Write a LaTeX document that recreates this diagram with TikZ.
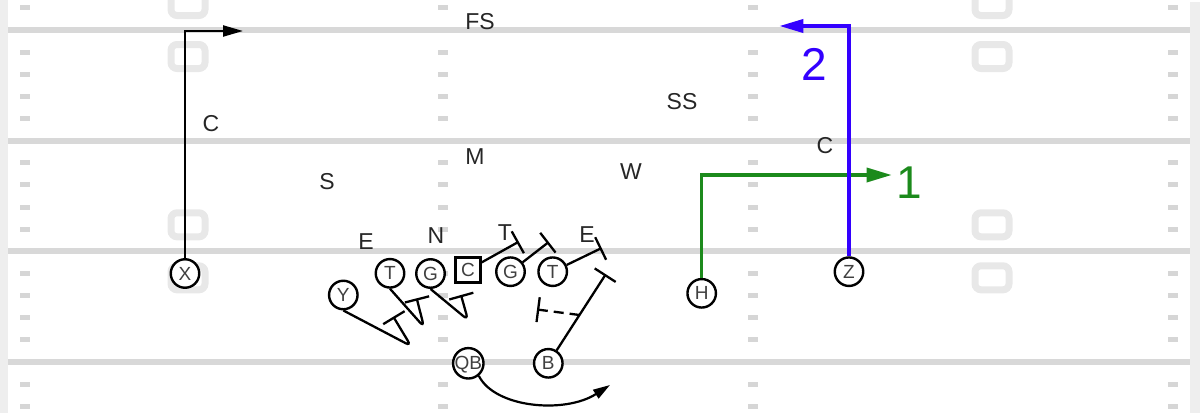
\documentclass[tikz,border=0pt]{standalone}
\usepackage{fontspec}
\setmainfont{Liberation Sans}
\usetikzlibrary{arrows.meta}

\definecolor{fieldline}{RGB}{216,216,216}
\definecolor{hashmark}{RGB}{214,214,214}
\definecolor{numbergray}{RGB}{232,232,232}
\definecolor{edgegray}{RGB}{238,238,238}
\definecolor{routeblue}{RGB}{51,0,255}
\definecolor{routegreen}{RGB}{28,138,28}
\definecolor{lettergray}{RGB}{64,64,64}

\begin{document}
\begin{tikzpicture}[x=1pt, y=-1pt]

\tikzset{
    player/.style={circle, draw, line width=2.4pt, fill=white, minimum size=28.5pt, inner sep=0pt, text depth=0pt, text=lettergray, font=\fontsize{19}{22}\selectfont},
    snapper/.style={rectangle, draw, line width=2.4pt, fill=white, minimum size=25pt, inner sep=0pt, text depth=0pt, text=lettergray, font=\fontsize{19}{22}\selectfont},
    defender/.style={inner sep=0pt, text=black!85, font=\fontsize{23}{26}\selectfont},
    blockline/.style={line width=2.3pt, -{Bar[width=25pt]}},
    routenum/.style={inner sep=0pt, font=\fontsize{46}{50}\selectfont}
}
\useasboundingbox (0,0) rectangle (1200,415);

% field
\fill[edgegray] (0,0) rectangle (8,413);
\fill[edgegray] (1190,2) rectangle (1200,413);
\foreach \nx in {188,992}
    \foreach \ny in {3.5,56.5,224.8,277.8}
        \draw[numbergray, line width=7pt, rounded corners=6pt] ({\nx-17},{\ny-12}) rectangle ({\nx+17},{\ny+12});
\foreach \ly in {30,140.7,251.3,362}
    \draw[fieldline, line width=6pt] (8,\ly) -- (1190,\ly);
\foreach \k in {-1,1,2,3,4,6,7,8,9,11,12,13,14,16,17}
    \foreach \hx in {25,443,753,1172.5}
        \fill[hashmark] ({\hx-5},{30+22.13*\k-2.5}) rectangle ++(10,5);

% defense
\node[defender] (cbL) at (211,124) {C};
\node[defender] (fs) at (480,22) {FS};
\node[defender] (ss) at (682,102) {SS};
\node[defender] (mlb) at (475,157) {M};
\node[defender] (slb) at (327,182) {S};
\node[defender] (wlb) at (631,172) {W};
\node[defender] (cbR) at (825,146) {C};
\node[defender] (deL) at (366,242) {E};
\node[defender] (nt) at (436,236) {N};
\node[defender] (dt) at (505,233) {T};
\node[defender] (deR) at (587,235) {E};

% offense
\node[player] (X) at (185,273.5) {X};
\node[player] (Y) at (343.3,295) {Y};
\node[player] (LT) at (390,273.3) {T};
\node[player] (LG) at (430.5,273.5) {G};
\node[snapper] (C) at (468,270) {C};
\node[player] (RG) at (510.5,271.7) {G};
\node[player] (RT) at (552.7,271.7) {T};
\node[player] (H) at (701.7,293.3) {H};
\node[player] (Z) at (849,271.7) {Z};
\node[player] (QB) at (468.3,363.3) {QB};
\node[player] (B) at (548.3,363.3) {B};

% blocks
\coordinate (Yturn) at (411,346);
\coordinate (Ybar) at (393.3,316.7);
\coordinate (LTturn) at (424,327);
\coordinate (LTbar) at (416.7,298.3);
\coordinate (LGturn) at (468,320);
\coordinate (LGbar) at (461,295);
\coordinate (Cbar) at (518.8,241.7);
\coordinate (RGbar) at (548.8,242);
\coordinate (RTbar) at (601.7,248);
\coordinate (Bbar) at (605.8,274.2);
\coordinate (Bdash) at (579.5,315);
\coordinate (Dbar) at (537,309.5);
\draw[blockline, rounded corners=6pt] (Y.south) -- (Yturn) -- (Ybar);
\draw[blockline, rounded corners=6pt] (LT.south) -- (LTturn) -- (LTbar);
\draw[blockline, rounded corners=6pt] (LG.south) -- (LGturn) -- (LGbar);
\draw[blockline] (C) -- (Cbar);
\draw[blockline] (RG) -- (RGbar);
\draw[blockline] (RT) -- (RTbar);
\draw[blockline] (B) -- (Bbar);
\draw[blockline, dash pattern=on 10pt off 6pt] (Bdash) -- (Dbar);

% routes
\coordinate (Xturn) at (185,31);
\coordinate (Xend) at (243,31);
\draw[line width=2.2pt, -{Triangle[length=20pt,width=11pt]}] (X) -- (Xturn) -- (Xend);
\coordinate (QBend) at (610,385);
\draw[line width=2.2pt, -{Triangle[length=17pt,width=10pt]}] (QB.-50) .. controls (495,408) and (565,414) .. (QBend);
\coordinate (Hturn) at (701.7,175);
\coordinate (Hend) at (891.7,175);
\draw[routegreen, line width=3.4pt, -{Triangle[length=25pt,width=14pt]}] (H) -- (Hturn) -- (Hend);
\node[routenum, text=routegreen] (num1) at (909,183) {1};
\coordinate (Zturn) at (849,26);
\coordinate (Zend) at (779.3,26);
\draw[routeblue, line width=3.6pt, -{Triangle[length=24pt,width=13pt]}] (Z) -- (Zturn) -- (Zend);
\node[routenum, text=routeblue] (num2) at (814,64) {2};

\end{tikzpicture}
\end{document}
